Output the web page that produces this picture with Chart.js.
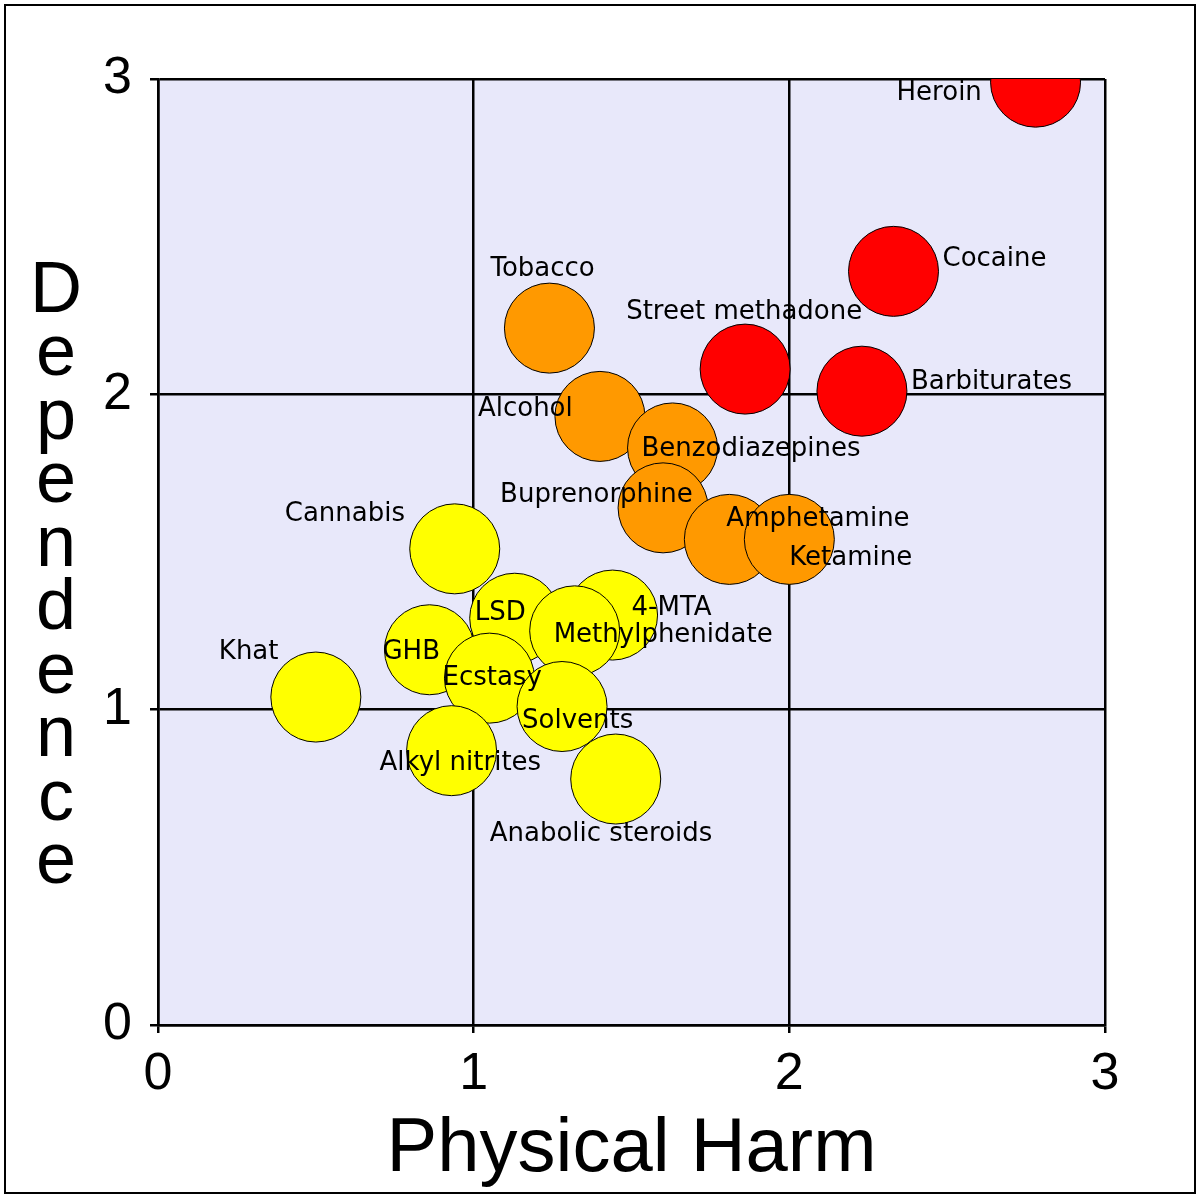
<!DOCTYPE html>
<html><head><meta charset="utf-8">
<script src="https://cdn.jsdelivr.net/npm/chart.js@4/dist/chart.umd.min.js"></script>
<style>html,body{margin:0;padding:0;background:#fff}#w{width:1200px;height:1200px;position:relative}</style>
</head><body><div id="w"><canvas id="c" width="1200" height="1200"></canvas></div>
<script>
const drugs = ["Heroin","Cocaine","Barbiturates","Street methadone","Tobacco","Alcohol","Benzodiazepines","Buprenorphine","Amphetamine","Ketamine","Cannabis","4-MTA","LSD","Methylphenidate","GHB","Ecstasy","Solvents","Khat","Alkyl nitrites","Anabolic steroids"];
const physicalHarm = [2.78,2.33,2.23,1.86,1.24,1.40,1.63,1.60,1.81,2.00,0.94,1.44,1.13,1.32,0.86,1.05,1.28,0.50,0.93,1.45];
const dependence = [2.99,2.39,2.01,2.08,2.21,1.93,1.83,1.64,1.54,1.54,1.51,1.30,1.29,1.25,1.19,1.10,1.01,1.04,0.87,0.78];
const group = ["r","r","r","r","o","o","o","o","o","o","y","y","y","y","y","y","y","y","y","y"];
const tickValues = [0,1,2,3];
// label offsets (pixels) relative to point centre
const labelDx = [-139,49,49,-119,-59,-122,-31,-163,-3,0,-170,19,-40,-21,-47,-47,-40,-97,-72,-126];
const labelDy = [11,-12,-9,-57,-59,-7,1,-13,-20,19,-35,-7,-5,4,2,0,15,-45,13,55];
const colorMap = {r:"#ff0000",o:"#ff9900",y:"#ffff00"};
const FONT = "'Liberation Sans', Arial, sans-serif";

const bgPlugin = {id:"bg",beforeDraw(ch){const a=ch.chartArea,c=ch.ctx;c.save();c.fillStyle="#fff";c.fillRect(0,0,1200,1200);c.fillStyle="#e8e8fa";c.fillRect(a.left,a.top,a.right-a.left,a.bottom-a.top);c.restore();},
afterDraw(ch){const c=ch.ctx,m=ch.getDatasetMeta(0);c.save();c.fillStyle="#000";c.font="26px 'DejaVu Sans', sans-serif";c.textBaseline="middle";c.textAlign="left";
m.data.forEach((p,i)=>{c.fillText(drugs[i],p.x+labelDx[i],p.y+labelDy[i]);});
c.font="72px "+FONT;c.textAlign="center";
"Dependence".split("").forEach((ch2,i)=>c.fillText(ch2,56,292+i*63.5));
c.strokeStyle="#000";c.lineWidth=2;c.strokeRect(5,5,1190,1188);c.restore();}};

new Chart(document.getElementById("c"),{type:"scatter",
data:{datasets:[{data:physicalHarm.map((x,i)=>({x,y:dependence[i]})),pointRadius:45,pointHoverRadius:45,
backgroundColor:group.map(g=>colorMap[g]),borderColor:"#000",borderWidth:1}]},
options:{responsive:false,animation:false,events:[],
layout:{padding:{top:79,right:95,left:0,bottom:0}},
plugins:{legend:{display:false},tooltip:{enabled:false}},
scales:{
x:{type:"linear",min:0,max:3,afterBuildTicks(s){s.ticks=tickValues.map(v=>({value:v}));},afterFit(s){s.height=175;},
grid:{color:"#000",lineWidth:2.5,tickLength:8},border:{color:"#000",width:2.5},
ticks:{color:"#000",font:{size:52,family:FONT},padding:10,maxRotation:0},
title:{display:true,text:"Physical Harm",color:"#000",font:{size:76,family:FONT},padding:{top:0}}},
y:{type:"linear",min:0,max:3,afterBuildTicks(s){s.ticks=tickValues.map(v=>({value:v}));},afterFit(s){s.width=158;},
grid:{color:"#000",lineWidth:2.5,tickLength:8},border:{color:"#000",width:2.5},
ticks:{color:"#000",font:{size:52,family:FONT},padding:18}}}},
plugins:[bgPlugin]});
</script></body></html>
